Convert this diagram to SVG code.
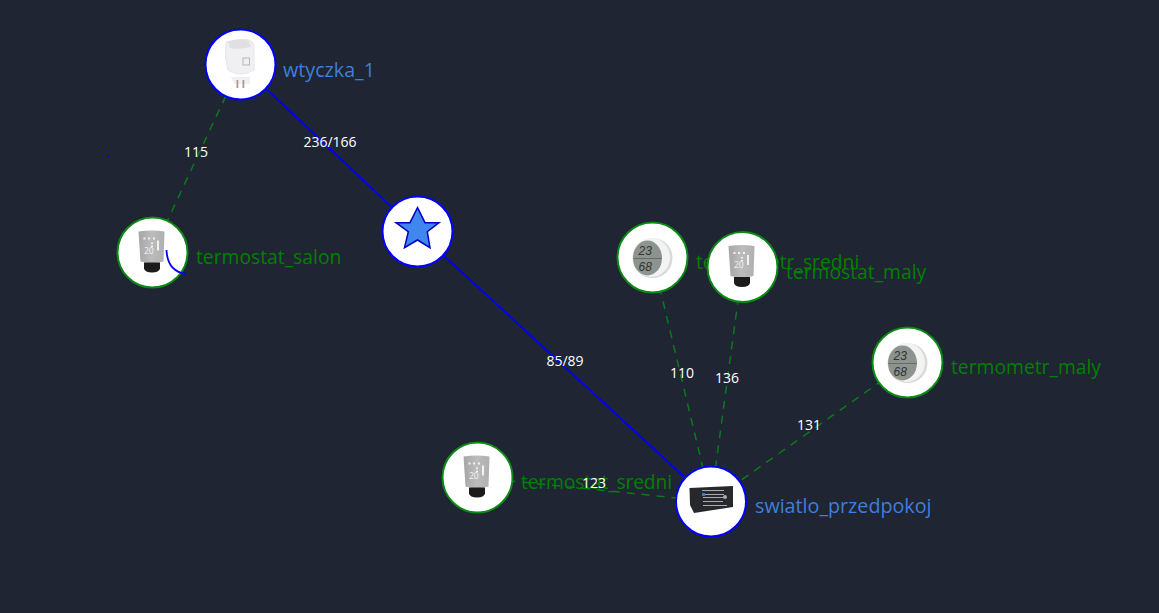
<svg xmlns="http://www.w3.org/2000/svg" width="1159" height="613" viewBox="0 0 1159 613">
<style>
text{font-family:"Open Sans","Noto Sans","Liberation Sans",sans-serif}
.name{font-size:19.7px}
.g{fill:#008000;font-size:19.3px}
.b{fill:#3d7fdc}
.w{fill:#fff;font-size:14px;text-anchor:middle}
.lnk{stroke:#0000ff;stroke-width:1.8;fill:none}
.dash{stroke:#0a7a1a;stroke-width:1.5;stroke-dasharray:8 7;fill:none}
.ng{fill:#fff;stroke:#0a8a14;stroke-width:2}
.nb{fill:#fff;stroke:#0000ff;stroke-width:2}
.px{fill:#f2f2f2}
.dg{fill:#30352f;font-size:12px;font-style:italic;font-family:"Liberation Sans",sans-serif}
</style>
<defs>
<linearGradient id="body" x1="0" x2="1" y1="0" y2="0"><stop offset="0" stop-color="#a6a6a6"/><stop offset=".5" stop-color="#bcbcbc"/><stop offset="1" stop-color="#b0b0b0"/></linearGradient>
<g id="thermostat">
<path d="M-13.500-21Q0-23 12.500-21L11.500 9Q0 12-11.500 9Z" fill="url(#body)"/>
<path d="M-8 10H8L8 16Q7 20 0 20Q-7 20-8 16Z" fill="#1b1b1b"/>
<g class="px"><rect x="-8.500" y="-15" width="2" height="2"/><rect x="-4" y="-15" width="2" height="2"/><rect x="1" y="-15" width="2" height="2"/><rect x="-1" y="-10" width="2" height="1.500"/><rect x="-1" y="-7" width="2" height="1.500"/><rect x="5" y="-12" width="2" height="10"/></g>
<text x="-8" y="1" font-size="8.500" fill="#f2f2f2" font-family="Liberation Sans,sans-serif">20</text>
</g>
<g id="thermometer">
<circle cx="0" cy="0.500" r="20" fill="#d9d9d9"/>
<ellipse cx="-1" cy="0" rx="18.500" ry="19.500" fill="#f3f3f3"/>
<ellipse cx="-5" cy="0.500" rx="14.500" ry="17.500" fill="#8d938e"/>
<path d="M-19 1H9" stroke="#5d625e" stroke-width=".8"/>
<text class="dg" x="-14" y="-3">23</text>
<text class="dg" x="-14" y="13">68</text>
</g>
</defs>
<rect width="1159" height="613" fill="#1f2533"/>
<g id="connectors">
<path class="dash" d="M152.500 252.500L240.500 64.500"/>
<path class="dash" d="M652.500 257.500L711 501.500"/>
<path class="dash" d="M742.500 267L711 501.500"/>
<path class="dash" d="M907.500 362.500L711 501.500"/>
<path class="dash" d="M477.500 477.500L711 501.500"/>
<path class="lnk" d="M240.500 64.500L417.500 231.500L711 501.500"/>
<circle cx="108.500" cy="156.500" r="1" fill="#0000ff"/>
</g>
<g id="node-wtyczka_1">
<circle class="nb" cx="240.500" cy="64.500" r="35"/>
<path d="M231 77H250V84H234Z" fill="#f0f0f2"/>
<rect x="236.500" y="80" width="1.800" height="8" fill="#b09a90"/><rect x="242.500" y="80" width="1.800" height="8" fill="#b09a90"/>
<path d="M226 42Q238 38 250 40Q254 42 254 48V70Q240 78 228 70Q224 56 226 42Z" fill="#f0f0f2" stroke="#e6e6ea"/>
<path d="M228 42Q238 38 249 41L251 47Q238 50 230 48Z" fill="#e0e0e4"/>
<rect x="243" y="58" width="6.500" height="7" fill="none" stroke="#b5b5ba"/>
<text class="name b" x="283" y="77">wtyczka_1</text>
</g>
<g id="node-termostat_salon">
<circle class="ng" cx="152.500" cy="252.500" r="35"/>
<use href="#thermostat" x="152" y="252.500"/>
<path class="lnk" d="M166.500 250C167 262 172 272 186 274"/>
<text class="name g" x="196" y="264">termostat_salon</text>
</g>
<g id="node-gwiazda">
<circle class="nb" cx="417.500" cy="231.500" r="35"/>
<path d="M417.500 207.700L425 222.700H439L427.300 231.700L430 247.700L417.500 240L404.500 247.700L408.300 231.700L396 222.700H410Z" fill="#3f86ee" stroke="#0000c8" stroke-width="1.500"/>
</g>
<g id="node-termometr_sredni">
<circle class="ng" cx="652.500" cy="257.500" r="35"/>
<use href="#thermometer" x="652.500" y="257.500"/>
<text class="name g" x="696" y="269">termometr_sredni</text>
</g>
<g id="node-termostat_maly">
<circle class="ng" cx="742.500" cy="267" r="35"/>
<use href="#thermostat" x="742" y="267"/>
<text class="name g" x="786" y="279">termostat_maly</text>
</g>
<g id="node-termometr_maly">
<circle class="ng" cx="907.500" cy="362.500" r="35"/>
<use href="#thermometer" x="907.500" y="362.500"/>
<text class="name g" x="951" y="374">termometr_maly</text>
</g>
<g id="node-termostat_sredni">
<circle class="ng" cx="477.500" cy="477.500" r="35"/>
<use href="#thermostat" x="477" y="477.500"/>
<text class="name g" x="521" y="489" textLength="151">termostat_sredni</text>
</g>
<g id="node-swiatlo_przedpokoj">
<circle class="nb" cx="711" cy="501.500" r="35"/>
<path d="M689.500 488L733 486L733 507L694 513L690 505Z" fill="#26282c"/>
<g fill="#a8acb2"><rect x="702" y="490" width="22" height="1"/><rect x="704" y="494" width="20" height="1"/><rect x="703" y="497" width="22" height="1"/><rect x="703" y="501" width="20" height="1"/><rect x="703" y="505" width="24" height="1"/><circle cx="725" cy="497" r="2"/></g>
<rect x="702" y="493" width="3" height="3" fill="#3a78d8"/>
<text class="name b" x="755" y="513">swiatlo_przedpokoj</text>
</g>
<g id="link-labels">
<text class="w" x="196" y="157">115</text>
<text class="w" x="330" y="147">236/166</text>
<text class="w" x="565" y="366">85/89</text>
<text class="w" x="682" y="378">110</text>
<text class="w" x="727" y="383">136</text>
<text class="w" x="809" y="430">131</text>
<text class="w" x="594" y="488">123</text>
</g>
</svg>
